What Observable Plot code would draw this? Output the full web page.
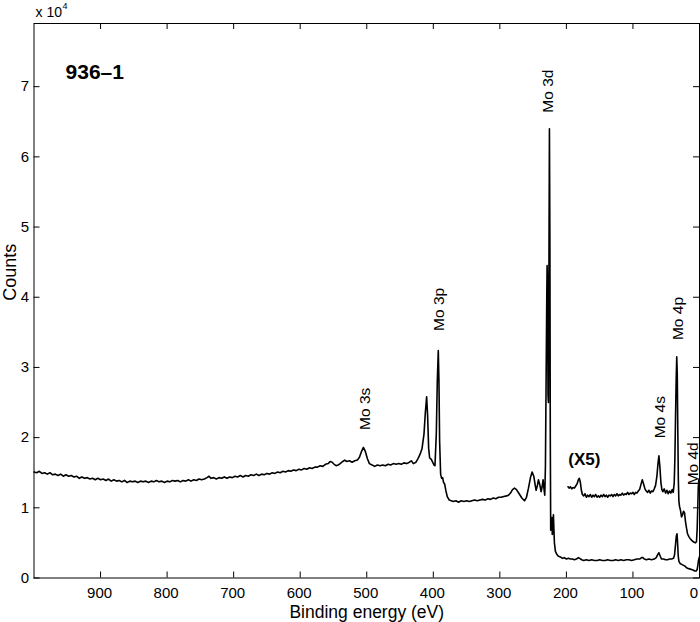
<!DOCTYPE html>
<html><head><meta charset="utf-8">
<script src="https://cdn.jsdelivr.net/npm/d3@7"></script>
<script src="https://cdn.jsdelivr.net/npm/@observablehq/plot@0.6"></script>
<style>body{margin:0;background:#fff;} #chart svg{display:block}</style>
</head><body><div id="chart"></div>
<script>
// Main survey spectrum: binding energy (eV) and counts
const mainEnergy = [
  1000,996,992,988,984,980,976,972,968,964,
  960,956,952,948,944,940,936,932,928,924,
  920,916,912,908,904,900,896,892,888,884,
  880,876,872,868,864,860,856,852,848,844,
  840,836,832,828,824,820,816,812,808,804,
  800,796,792,788,784,780,776,772,768,764,
  760,756,752,748,744,740,737,734,730,726,
  722,718,714,710,706,702,698,694,690,686,
  682,678,674,670,666,662,658,654,650,646,
  642,638,634,630,626,622,618,614,610,606,
  602,598,594,590,586,582,578,574,570,566,
  562,558,555,552,549,546,543,540,536,533,
  530,526,522,518,514,511,508,505,502,499,
  496,492,488,484,480,476,472,468,464,460,
  456,452,448,444,440,436,433,430,426,423,
  420,417,414,412,410,408.5,407,405.5,403,401,
  399,397.5,395.5,394,392.5,391.5,390.5,389,387.5,386,
  384.5,383,381,379,376,373,370,366,362,358,
  354,350,346,342,338,334,330,326,322,318,
  314,310,306,302,298,294,290,287,284,281,
  278,275,271,267,263,260,257,254,251.5,249,
  247,245.5,243.5,242,240,238,236.5,235,233.5,232.5,
  231.5,230.5,229.5,229,228.3,227.6,227,226.3,225.5,224.8,
  224.2,223.6,223,222.4,221.8,221.2,220.5,219.5,218.8,218,
  216.5,214.5,212,209,206,203,200,197,194,191,
  188,185,182,180,177,174,170,166,162,158,
  154,150,146,142,138,134,130,126,122,118,
  114,110,106,102,98,94,90,87,85,83,
  80,76,72,68,65,63,61,59,57,54,
  51,48,45,42,39,37.5,36,34.8,33.8,33,
  32,31,29.5,28,26,24,22,20,18,15,
  12,9,7,5,3.5,2.5,1.5,0.5,0
];
const mainCounts = [
  15100,15000,15200,14900,15000,14800,15000,14700,14800,14600,
  14800,14500,14700,14500,14600,14400,14500,14200,14400,14200,
  14300,14100,14200,14000,14200,14000,14100,13900,14100,13800,
  14000,13800,13900,13700,13900,13600,13800,13700,13800,13600,
  13800,13700,13800,13600,13800,13700,13900,13700,13800,13600,
  13800,13700,13900,13800,13900,13700,13900,13800,14000,13800,
  14000,13900,14100,14000,14100,14300,14500,14200,14300,14100,
  14300,14200,14400,14200,14400,14300,14500,14400,14600,14400,
  14600,14500,14700,14600,14800,14600,14800,14700,14900,14800,
  15000,14900,15100,15000,15200,15100,15300,15200,15400,15300,
  15500,15400,15600,15500,15700,15600,15800,15800,16000,15900,
  16200,16300,16600,16500,16200,16000,16100,16300,16600,16800,
  16600,16700,16500,16700,16800,17200,18000,18600,18000,17000,
  16300,16100,15900,16100,16000,16100,16000,16200,16100,16300,
  16200,16300,16200,16400,16300,16500,16700,16300,16500,17000,
  17600,18400,20500,23500,25800,23000,18500,17100,16900,16500,
  16100,16000,20500,28000,32400,28000,19500,14800,14200,14300,
  13600,13400,12400,11600,11100,11000,10900,11000,10800,11000,
  10900,11000,10900,11000,11100,11000,11100,11200,11100,11300,
  11200,11400,11300,11500,11500,11600,11700,11800,12100,12600,
  12800,12600,12000,11400,11000,11500,12800,14300,15100,14500,
  13300,12500,13200,14000,13300,12300,13000,14000,12500,11800,
  16000,28000,40000,44500,42000,26000,25000,42000,64000,48000,
  20000,6800,7400,8400,8600,6200,6600,9000,7000,5000,
  3800,3400,3100,3000,2800,2900,2700,2800,2700,2700,
  2600,2700,2900,2800,2600,2500,2600,2500,2600,2500,
  2500,2600,2500,2500,2600,2500,2500,2600,2500,2600,
  2500,2600,2600,2500,2600,2700,2700,2900,2900,2700,
  2600,2700,2600,2700,2900,3300,3600,3100,2700,2700,
  2600,2600,2700,2700,2800,3300,4800,6000,6300,5200,
  3200,2400,2100,2000,1900,1800,1700,1500,1400,1300,
  1200,1100,1000,1000,1200,1800,2500,2900,3000
];
// Low binding-energy region magnified (X5)
const x5Energy = [
  197.5,196,194,192,190,188,186,184,182,180.5,
  179,177.5,176,174,172,170,168,166,164,162,
  160,158,156,154,152,150,148,146,144,142,
  140,138,136,134,132,130,128,126,124,122,
  120,118,116,114,112,110,108,106,104,102,
  100,98,96,94,92,90,88,86,84,82,
  80,78,76,74,72,70,68,66,64,62.5,
  61,59.5,58,56.5,55,53,51,49,47,45,
  43,41,39.5,38,37,36,35,34.2,33.4,32.6,
  31.8,31,30,28.5,27,25.5,24,22.5,21,19.5,
  18,16,14,12,10,8,6,4.5,3.5,2.5,
  1.8,1,0
];
const x5Counts = [
  13000,12800,13000,12700,12900,12800,13100,13400,14000,14200,
  13600,12500,11900,11700,12000,11500,11800,11600,11900,11500,
  11800,11600,11900,11500,11700,11500,11800,11600,11900,11600,
  11800,11500,11800,11700,11900,11600,11900,11700,12000,11700,
  11900,11800,12100,11800,12000,11900,12200,11900,12100,12000,
  12200,11900,12200,12100,12400,12600,13300,14000,13400,12700,
  12400,12200,12500,12100,12400,12300,12700,13200,14500,16200,
  17400,15800,13600,12600,12300,12700,12100,12500,12000,12400,
  12100,12600,12200,13500,17000,23000,28500,31500,29000,21000,
  14000,11000,10200,9600,8700,9000,9500,9300,8000,7100,
  6300,5900,5600,5400,5200,5100,5000,5200,7000,10500,
  13000,14000,14200
];
const xTicks = [900,800,700,600,500,400,300,200,100,0];
const yTicks = [0,10000,20000,30000,40000,50000,60000,70000];
const peakLabels = ["Mo 3s","Mo 3p","Mo 3d","Mo 4s","Mo 4p","Mo 4d"];
const labelEnergy = [503,391,227.7,59,32.2,9.5];
const labelCounts = [21100,35200,66300,19900,33900,13200];
const notes = ["936\u20131","(X5)"];
const noteEnergy = [952.6,197.2];
const noteCounts = [71150,16070];
const noteSize = [21,17];

const mainData = mainEnergy.map((e,i)=>({e, c: mainCounts[i]}));
const x5Data = x5Energy.map((e,i)=>({e, c: x5Counts[i]}));
const labelData = peakLabels.map((t,i)=>({t, e: labelEnergy[i], c: labelCounts[i]}));
const noteData = notes.map((t,i)=>({t, e: noteEnergy[i], c: noteCounts[i], s: noteSize[i]}));

const W=700, H=622, mL=33.5, mR=1, mT=23, mB=44.5;
const xDomain=[1000,0], yDomain=[0,79000];
const tickPx = 6;
const tY = tickPx*(yDomain[1]-yDomain[0])/(H-mT-mB);
const tX = tickPx*(xDomain[0]-xDomain[1])/(W-mL-mR);
const innerTicks = xTicks.filter(d => d !== xDomain[1]);
const edgeTicks = xTicks.filter(d => d === xDomain[1]);

const chart = Plot.plot({
  width: W, height: H,
  marginLeft: mL, marginRight: mR, marginTop: mT, marginBottom: mB,
  style: {fontFamily: "'Liberation Sans', Arial, Helvetica, sans-serif", fontSize: "15px", color: "#000", background: "#fff"},
  x: {domain: xDomain, label: null},
  y: {domain: yDomain, label: null},
  marks: [
    Plot.axisX({ticks: innerTicks, tickFormat: d3.format("d"), tickSize: 0, tickPadding: 9.5, fontSize: 15, dx: -1, label: null}),
    Plot.axisX({ticks: edgeTicks, tickFormat: d3.format("d"), tickSize: 0, tickPadding: 9.5, fontSize: 15, dx: -5.5, label: null}),
    Plot.axisY({ticks: yTicks, tickFormat: d => d/1e4, tickSize: 0, tickPadding: 5, fontSize: 15, label: null}),
    Plot.ruleX(xTicks, {x: d=>d, y1: yDomain[0], y2: yDomain[0]+tY, stroke: "#000"}),
    Plot.ruleX(xTicks, {x: d=>d, y1: yDomain[1], y2: yDomain[1]-tY, stroke: "#000"}),
    Plot.ruleY(yTicks, {y: d=>d, x1: xDomain[0], x2: xDomain[0]-tX, stroke: "#000"}),
    Plot.ruleY(yTicks, {y: d=>d, x1: xDomain[1], x2: xDomain[1]+tX, stroke: "#000"}),
    Plot.line(mainData, {x: "e", y: "c", stroke: "#000", strokeWidth: 1.6}),
    Plot.line(x5Data, {x: "e", y: "c", stroke: "#000", strokeWidth: 1.6}),
    Plot.text(labelData, {x: "e", y: "c", text: "t", rotate: -90, textAnchor: "start", fontSize: 15.5, fill: "#000"}),
    Plot.text(noteData, {x: "e", y: "c", text: "t", textAnchor: "start", lineAnchor: "bottom", fontWeight: "bold", fontSize: d => d.s, fill: "#000"}),
    Plot.text(["Binding energy (eV)"], {text: d=>d, frameAnchor: "bottom", dy: 39.5, lineAnchor: "bottom", fontSize: 17.5, fill: "#000"}),
    Plot.text(["Counts"], {text: d=>d, frameAnchor: "left", dx: -24, rotate: -90, fontSize: 18, fill: "#000"}),
    Plot.text(["x 10"], {text: d=>d, frameAnchor: "top-left", textAnchor: "start", lineAnchor: "bottom", dx: 1.5, dy: -7, fontSize: 14, fill: "#000"}),
    Plot.text(["4"], {text: d=>d, frameAnchor: "top-left", textAnchor: "start", lineAnchor: "bottom", dx: 28.5, dy: -14.7, fontSize: 9, fill: "#000"}),
    Plot.frame({stroke: "#000", strokeWidth: 1})
  ]
});
document.getElementById("chart").appendChild(chart);
</script>
</body></html>
